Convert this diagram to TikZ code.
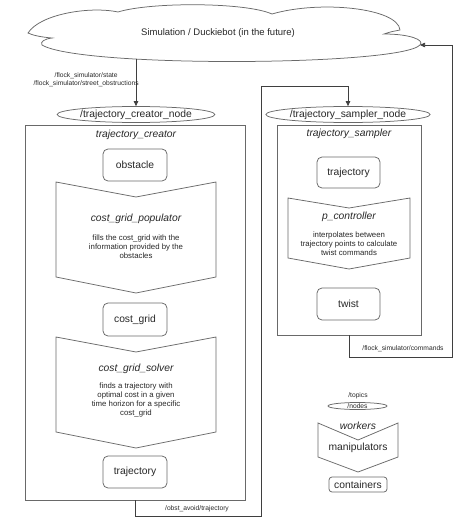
\documentclass[tikz,border=0pt]{standalone}
\usepackage{fontspec}
\setmainfont{Liberation Sans}
\usetikzlibrary{shapes.geometric,arrows.meta}
\definecolor{lc}{RGB}{105,105,105}
\definecolor{tc}{RGB}{40,40,40}
\newcommand\fmain{\fontsize{10.3}{12}\selectfont}
\newcommand\fdesc{\fontsize{7.8}{9}\selectfont}
\newcommand\flab{\fontsize{6.7}{7.5}\selectfont}
\newcommand\fcloud{\fontsize{9.5}{11}\selectfont}
\tikzset{
  txt/.style={inner sep=0pt, text=tc},
  lab/.style={txt, font=\flab, align=center},
  desc/.style={txt, font=\fdesc, align=center},
  ttl/.style={txt, font=\fmain\itshape},
  rosnode/.style={draw=lc, ellipse, inner sep=0pt, minimum width=121pt, minimum height=16pt, font=\fmain, text=tc},
  container/.style={draw=lc, inner sep=0pt},
  databox/.style={draw=lc, rounded corners=5pt, inner sep=0pt, minimum width=64pt, minimum height=32pt, font=\fmain, text=tc},
  chev/.style={draw=lc},
  conn/.style={draw=lc!60!black, -{Triangle[length=5pt,width=4.5pt]}},
}
\begin{document}
\begin{tikzpicture}[x=1pt,y=-1pt,line width=0.75pt]
\useasboundingbox (0,0) rectangle (474,530);
\fill[white] (0,0) rectangle (474,530);

% cloud
\draw[lc] (28,33) .. controls (40,14) and (90,6) .. (118,12)
  .. controls (150,2) and (245,2) .. (272,14)
  .. controls (320,0) and (398,8) .. (400,30)
  .. controls (395,31) and (389,32) .. (384,34)
  .. controls (410,34) and (425,40) .. (420,45)
  .. controls (400,66) and (80,68) .. (42,45)
  .. controls (40,42) and (44,39) .. (52,38)
  .. controls (40,37) and (32,35) .. (28,33) -- cycle;
\node[txt,font=\fcloud] (sim) at (218,33) {Simulation / Duckiebot (in the future)};
\coordinate (cloudbot) at (136,59);
\coordinate (cloudright) at (420,45);

% ROS nodes
\node[rosnode] (creator) at (136,114.5) {/trajectory\_creator\_node};
\node[rosnode] (sampler) at (348,114.5) {/trajectory\_sampler\_node};

% containers
\node[container, minimum width=220pt, minimum height=375pt] (cbox) at (135,312.5) {};
\node[container, minimum width=144pt, minimum height=210pt] (sbox) at (349,230) {};
\node[ttl] (ctitle) at (136,135) {trajectory\_creator};
\node[ttl] (stitle) at (349,134) {trajectory\_sampler};

% creator contents
\node[databox] (obstacle) at (135,165) {obstacle};
\draw[chev] (56,182) -- (136,197) -- (216,182) -- (216,277) -- (136,293) -- (56,277) -- cycle;
\node[ttl] (pop) at (136,219) {cost\_grid\_populator};
\node[desc] (popd) at (136,247) {fills the cost\_grid with the\\information provided by the\\obstacles};
\node[databox, minimum height=33pt] (costgrid) at (135,319.5) {cost\_grid};
\draw[chev] (56,337) -- (136,352) -- (216,337) -- (216,432) -- (136,448) -- (56,432) -- cycle;
\node[ttl] (solv) at (136,369) {cost\_grid\_solver};
\node[desc, font=\fontsize{7.8}{8.7}\selectfont] (solvd) at (136,400) {finds a trajectory with\\optimal cost in a given\\time horizon for a specific\\cost\_grid};
\node[databox] (traj1) at (135,472) {trajectory};

% sampler contents
\node[databox, minimum width=63pt, minimum height=31pt] (traj2) at (348.5,172.5) {trajectory};
\draw[chev] (288,198) -- (349,208) -- (410,198) -- (410,258) -- (349,269) -- (288,258) -- cycle;
\node[ttl] (pc) at (349,217) {p\_controller};
\node[desc] (pcd) at (349,244) {interpolates between\\trajectory points to calculate\\twist commands};
\node[databox, minimum width=63pt] (twist) at (348.5,304) {twist};

% connectors
\draw[conn] (cloudbot) -- (creator.north);
\node[lab, anchor=east] (toplab) at (139,79.5) {/flock\_simulator/state\\/flock\_simulator/street\_obstructions};

\coordinate (w1) at (261,516);
\coordinate (w2) at (261,86);
\draw[conn] (cbox.south) |- (w1) -- (w2) -| (sampler.north);
\node[lab] (oalab) at (197,509) {/obst\_avoid/trajectory};

\coordinate (w3) at (452,357);
\draw[conn] (sbox.south) |- (w3) |- (cloudright);
\node[lab] (cmdlab) at (403,349) {/flock\_simulator/commands};

% legend
\node[lab] (topics) at (358,396) {/topics};
\node[draw=lc, ellipse, inner sep=0pt, minimum width=59pt, minimum height=7pt, font=\flab, text=tc] (nodes) at (357.5,406) {/nodes};
\draw[chev] (318,423) -- (358,440) -- (398,423) -- (398,457) -- (358,472) -- (318,457) -- cycle;
\node[ttl] (workers) at (358,426) {workers};
\node[txt, font=\fmain] (manip) at (358,448) {manipulators};
\node[databox, rounded corners=3pt, minimum width=58pt, minimum height=15pt] (cont) at (358,484.5) {containers};
\end{tikzpicture}
\end{document}
